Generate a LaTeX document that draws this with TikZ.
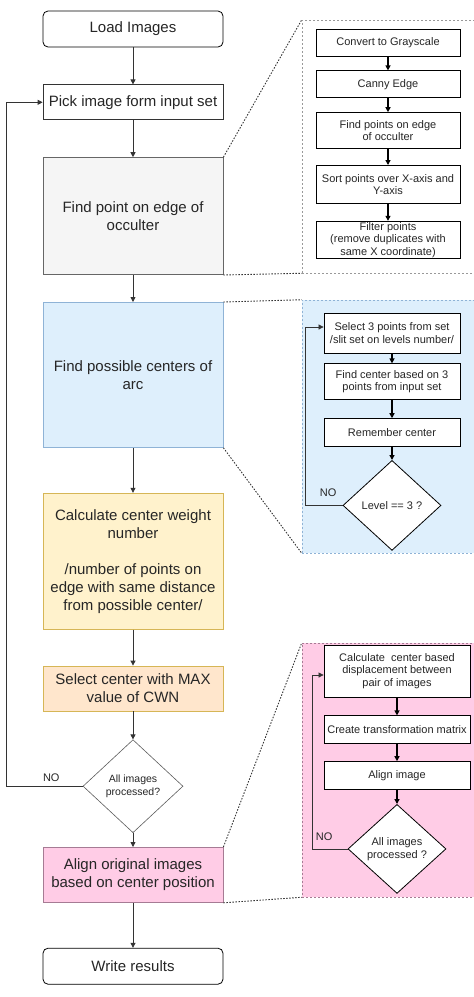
\documentclass[tikz,border=0pt]{standalone}
\usepackage{fontspec}
\setmainfont{Liberation Sans}
\usepackage{xcolor}
\usetikzlibrary{shapes.geometric, arrows.meta, positioning}
\definecolor{linegray}{HTML}{333333}
\definecolor{occfill}{HTML}{F5F5F5}
\definecolor{occdraw}{HTML}{666666}
\definecolor{arcfill}{HTML}{DEEFFC}
\definecolor{arcdraw}{HTML}{8FB3D6}
\definecolor{cwnfill}{HTML}{FFF2CC}
\definecolor{cwndraw}{HTML}{D6B656}
\definecolor{maxfill}{HTML}{FFE6CC}
\definecolor{alnfill}{HTML}{FFCCE6}
\definecolor{alndraw}{HTML}{A67B94}
\definecolor{paneldraw}{HTML}{999999}
\newcommand{\mainsize}{\fontsize{15}{18}\selectfont}
\newcommand{\subsize}{\fontsize{11}{12.6}\selectfont}
\newcommand{\decsize}{\fontsize{10.5}{12.6}\selectfont}
\tikzstyle{terminal} = [rectangle, rounded corners=5pt, minimum width=180pt, minimum height=36pt,
    align=center, draw=black, line width=0.8pt, fill=white, font=\mainsize, inner sep=3pt]
\tikzstyle{mainbox}  = [rectangle, minimum width=180pt, align=center, draw=linegray,
    line width=0.8pt, fill=white, font=\mainsize, inner sep=3pt]
\tikzstyle{maindec}  = [diamond, minimum width=100pt, minimum height=93pt, inner sep=0pt,
    align=center, draw=linegray!80, line width=0.6pt, fill=white, font=\decsize]
\tikzstyle{panel}    = [rectangle, draw=paneldraw, dash pattern=on 2pt off 2pt, line width=0.5pt,
    minimum width=178pt]
\tikzstyle{subbox}   = [rectangle, align=center, draw=black, fill=white, font=\subsize,
    inner xsep=2pt, inner ysep=1pt, line width=0.8pt]
\tikzstyle{subdec}   = [diamond, minimum width=98pt, minimum height=90pt, inner sep=0pt,
    align=center, draw=black, fill=white, font=\subsize, line width=0.8pt]
\tikzstyle{arrow}    = [line width=0.8pt, draw=linegray, -{Triangle[length=5pt, width=5pt]}]
\tikzstyle{subarrow} = [line width=1.2pt, draw=black, -{Triangle[length=5pt, width=5pt]}]
\tikzstyle{subloop}  = [line width=0.7pt, draw=linegray, -{Triangle[length=5pt, width=5pt]}]
\tikzstyle{zoomline} = [line width=0.9pt, draw=linegray, dash pattern=on 1.5pt off 1.5pt]
\tikzstyle{nolabel}  = [font=\subsize, inner sep=0pt]
\begin{document}
\begin{tikzpicture}[node distance=30pt, text=black!85]
    \useasboundingbox (0,0) rectangle (474pt,-997pt);
    \node (load)  [terminal] at (133pt,-29pt)                 {Load Images};
    \node (pick)  [mainbox, minimum height=35pt, below=37pt of load] {Pick image form input set};
    \node (occ)   [mainbox, fill=occfill, draw=occdraw, minimum height=117pt, below=37pt of pick]
        {Find point on edge of\\occulter};
    \node (arc)   [mainbox, fill=arcfill, draw=arcdraw, minimum height=145pt, below=27pt of occ]
        {Find possible centers of\\arc};
    \node (cwn)   [mainbox, fill=cwnfill, draw=cwndraw, minimum height=136pt, below=45pt of arc]
        {Calculate center weight\\number\\[18pt]/number of points on\\edge with same distance\\from possible center/};
    \node (maxc)  [mainbox, fill=maxfill, draw=cwndraw, minimum height=45pt, below=36pt of cwn]
        {Select center with MAX\\value of CWN};
    \node (done)  [maindec, below=28pt of maxc]               {All images\\processed?};
    \node (aln)   [mainbox, fill=alnfill, draw=alndraw, minimum height=55pt, below=14pt of done]
        {Align original images\\based on center position};
    \node (write) [terminal, below=45pt of aln]              {Write results};
    \node (doneno) [nolabel, above left=4pt and 23pt of done.west] {NO};

    \node (occpanel) [panel, fill=white, minimum height=253pt] at (391pt,-146.5pt) {};
    \node (arcpanel) [panel, draw=arcdraw, fill=arcfill, minimum height=253pt] at (391pt,-426.5pt) {};
    \node (alnpanel) [panel, draw=alndraw, fill=alnfill, minimum height=254pt] at (391pt,-770pt) {};

    \node (gray)    [subbox, minimum width=144pt, minimum height=27pt] at (388pt,-42.5pt) {Convert to Grayscale};
    \node (canny)   [subbox, minimum width=144pt, minimum height=27pt, below=14pt of gray]    {Canny Edge};
    \node (edgepts) [subbox, minimum width=144pt, minimum height=36pt, below=14pt of canny]   {Find points on edge\\of occulter};
    \node (sortpts) [subbox, minimum width=144pt, minimum height=38pt, below=16pt of edgepts] {Sort points over X-axis and\\Y-axis};
    \node (filtpts) [subbox, minimum width=144pt, minimum height=37pt, below=17pt of sortpts]
        {Filter points\\(remove duplicates with\\same X coordinate)};

    \node (sel3) [subbox, minimum width=136pt, minimum height=40pt] at (392pt,-333pt)
        {Select 3 points from set\\/slit set on levels number/};
    \node (fitc) [subbox, minimum width=136pt, minimum height=36pt, below=10pt of sel3]
        {Find center based on 3\\points from input set};
    \node (remc) [subbox, minimum width=136pt, minimum height=28pt, below=18pt of fitc] {Remember center};
    \node (lvl)  [subdec, below=13pt of remc]                                          {Level == 3 ?};
    \node (lvlno) [nolabel, above left=9pt and 6pt of lvl.west] {NO};

    \node (disp)  [subbox, minimum width=146pt, minimum height=52pt] at (397pt,-671pt)
        {Calculate\ \ center based\\displacement between\\pair of images};
    \node (tmat)  [subbox, minimum width=146pt, minimum height=28pt, below=18pt of disp] {Create transformation matrix};
    \node (aimg)  [subbox, minimum width=146pt, minimum height=28pt, below=17pt of tmat] {Align image};
    \node (done2) [subdec, minimum height=89pt, below=14pt of aimg]                     {All images\\processed ?};
    \node (done2no) [nolabel, above left=8pt and 15pt of done2.west] {NO};

    \draw [arrow] (load)  -- (pick);
    \draw [arrow] (pick)  -- (occ);
    \draw [arrow] (occ)   -- (arc);
    \draw [arrow] (arc)   -- (cwn);
    \draw [arrow] (cwn)   -- (maxc);
    \draw [arrow] (maxc)  -- (done);
    \draw [arrow] (done)  -- (aln);
    \draw [arrow] (aln)   -- (write);
    \draw [arrow] (done.west) -- ++(-76pt,0) |- (pick.west);

    \draw [subarrow] (gray)    -- (canny);
    \draw [subarrow] (canny)   -- (edgepts);
    \draw [subarrow] (edgepts) -- (sortpts);
    \draw [subarrow] (sortpts) -- (filtpts);
    \draw [subarrow] (sel3) -- (fitc);
    \draw [subarrow] (fitc) -- (remc);
    \draw [subarrow] (remc) -- (lvl);
    \draw [subloop]  (lvl.west) -- ++(-37pt,0) |- ([yshift=6pt]sel3.west);
    \draw [subarrow] (disp) -- (tmat);
    \draw [subarrow] (tmat) -- (aimg);
    \draw [subarrow] (aimg) -- (done2);
    \draw [subloop]  (done2.west) -- ++(-35pt,0) |- ([yshift=-4pt]disp.west);

    \draw [zoomline] (occ.north east) -- (occpanel.north west);
    \draw [zoomline] (occ.south east) -- (occpanel.south west);
    \draw [zoomline] (arc.north east) -- (arcpanel.north west);
    \draw [zoomline] (arc.south east) -- (arcpanel.south west);
    \draw [zoomline] (aln.north east) -- (alnpanel.north west);
    \draw [zoomline] (aln.south east) -- (alnpanel.south west);
\end{tikzpicture}
\end{document}
